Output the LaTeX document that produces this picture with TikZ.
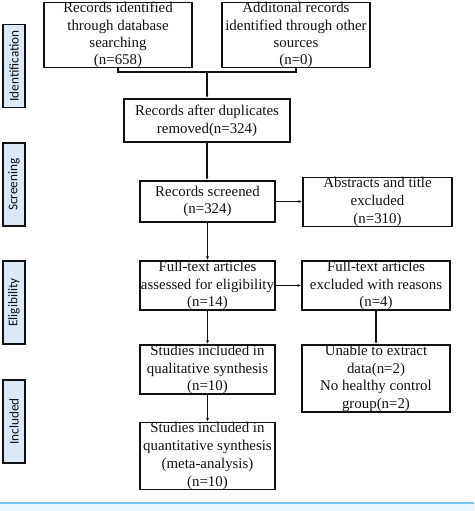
\documentclass[tikz,border=0pt]{standalone}
\usepackage{fontspec}
\setmainfont{Liberation Serif}
\newfontfamily\sidefont{Carlito}
\usetikzlibrary{positioning,arrows.meta,calc}
\definecolor{ink}{RGB}{17,17,17}
\definecolor{sideblue}{RGB}{219,232,246}
\definecolor{lineblue}{RGB}{120,196,236}
\definecolor{stripblue}{RGB}{232,246,253}
\tikzset{
  box/.style={draw=ink, line width=1.4pt, align=center, inner sep=0pt, text=ink,
              font=\fontsize{12.7}{15.2}\selectfont},
  phase/.style={draw=ink, line width=1.4pt, fill=sideblue, rotate=90, inner sep=0pt,
              minimum width=2.5cm, minimum height=0.66cm, text=ink,
              font=\sidefont\fontsize{11.3}{13}\selectfont},
  arr/.style={-{Latex[length=1.1mm,width=0.9mm]}, line width=1.1pt, draw=ink},
  link/.style={line width=1.1pt, draw=ink},
}
\begin{document}
\begin{tikzpicture}[x=0.03cm,y=-0.03cm]
  \useasboundingbox (0,0) rectangle (474,511);

  % ---- phase labels --------------------------------------------------
  \node[phase] (ident) at (14,66)  {Identification};
  \node[phase] (screen) at (14,184.5) {Screening};
  \node[phase] (elig)  at (14,302.5) {Eligibility};
  \node[phase] (incl)  at (14,421.5) {Included};

  % ---- boxes ---------------------------------------------------------
  \node[box, minimum width=4.44cm, minimum height=1.95cm,
        font=\fontsize{12.7}{14.6}\selectfont] (dbase) at (118,35)
    {Records identified\\ through database\\ searching\\ (n=658)};
  \node[box, minimum width=4.44cm, minimum height=1.95cm,
        font=\fontsize{12.7}{14.6}\selectfont] (other) at (296,35)
    {Additonal records\\ identified through other\\ sources\\ (n=0)};
  \node[box, minimum width=4.98cm, minimum height=1.29cm] (dupl) at (207,120.5)
    {Records after duplicates\\ removed(n=324)};
  \node[box, minimum width=4.05cm, minimum height=1.23cm] (screened) at (207.5,201.5)
    {Records screened\\ (n=324)};
  \node[box, minimum width=4.47cm, minimum height=1.44cm] (abstr) at (377.5,202)
    {Abstracts and title\\ excluded\\ (n=310)};
  \node[box, minimum width=4.05cm, minimum height=1.41cm] (fulltext) at (207.5,285.5)
    {Full-text articles\\ assessed for eligibility\\ (n=14)};
  \node[box, minimum width=4.44cm, minimum height=1.41cm] (excl) at (376,285.5)
    {Full-text articles\\ excluded with reasons\\ (n=4)};
  \node[box, minimum width=4.05cm, minimum height=1.41cm] (qual) at (207.5,369.5)
    {Studies included in\\ qualitative synthesis\\ (n=10)};
  \node[box, minimum width=4.44cm, minimum height=1.95cm] (reasons) at (376,378.5)
    {Unable to extract\\ data(n=2)\\ No healthy control\\ group(n=2)};
  \node[box, minimum width=4.05cm, minimum height=1.98cm] (quant) at (207.5,456)
    {Studies included in\\ quantitative synthesis\\ (meta-analysis)\\ (n=10)};

  % ---- connectors ----------------------------------------------------
  \coordinate (join) at (207,72);
  \draw[link] (dbase.south) |- (join) -| (other.south);
  \draw[arr] (join) -- (dupl.north);
  \draw[arr] (dupl.south) -- (dupl.south |- screened.north);
  \draw[arr] (screened.east) -- (screened.east -| abstr.west);
  \draw[arr] (screened.south) -- (fulltext.north);
  \draw[arr] (fulltext.east) -- (excl.west);
  \draw[arr] (fulltext.south) -- (qual.north);
  \draw[arr] (excl.south) -- (reasons.north);
  \draw[arr] (qual.south) -- (quant.north);

  % ---- bottom rule ---------------------------------------------------
  \fill[stripblue] (0,503) rectangle (474,511);
  \draw[lineblue, line width=1pt] (0,503) -- (474,503);
\end{tikzpicture}
\end{document}
